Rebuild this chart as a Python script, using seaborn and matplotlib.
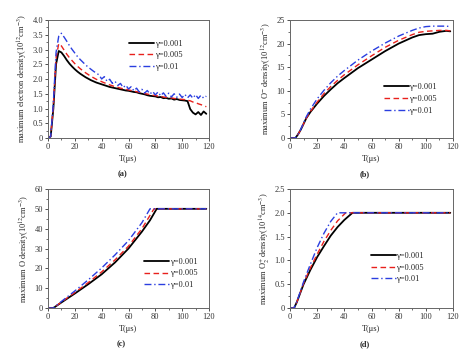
import pandas as pd
import matplotlib
matplotlib.use('Agg')
import matplotlib.pyplot as plt
from matplotlib.ticker import AutoMinorLocator
import seaborn as sns

# (a) maximum electron density, t every 2 us
t_a = list(range(0, 120, 2))
ne_001 = [0, 0.05, 1.0, 2.5, 2.95, 2.9, 2.78, 2.64, 2.52, 2.42, 2.33, 2.25, 2.18, 2.12, 2.06,
          2.01, 1.96, 1.92, 1.88, 1.85, 1.82, 1.79, 1.76, 1.73, 1.71, 1.69, 1.67, 1.65, 1.63, 1.61,
          1.6, 1.58, 1.56, 1.55, 1.52, 1.5, 1.48, 1.45, 1.43, 1.42, 1.41, 1.38, 1.39, 1.35, 1.36,
          1.33, 1.34, 1.3, 1.32, 1.29, 1.28, 1.27, 1.25, 0.98, 0.86, 0.8, 0.88, 0.78, 0.9, 0.82]
ne_005 = [0, 0.05, 1.1, 2.7, 3.2, 3.12, 2.98, 2.84, 2.72, 2.62, 2.52, 2.43, 2.35, 2.28, 2.21,
          2.15, 2.09, 2.04, 1.99, 1.95, 1.91, 1.87, 1.84, 1.8, 1.77, 1.74, 1.72, 1.69, 1.67, 1.65,
          1.63, 1.61, 1.59, 1.57, 1.55, 1.53, 1.51, 1.49, 1.47, 1.45, 1.44, 1.42, 1.41, 1.39, 1.38,
          1.37, 1.36, 1.34, 1.33, 1.32, 1.31, 1.3, 1.28, 1.26, 1.22, 1.2, 1.16, 1.13, 1.1, 1.06]
ne_01 = [0, 0.05, 1.2, 2.9, 3.45, 3.55, 3.42, 3.28, 3.13, 3.0, 2.88, 2.76, 2.66, 2.57, 2.48,
         2.4, 2.33, 2.26, 2.2, 2.14, 2.0, 2.08, 1.92, 1.99, 1.85, 1.92, 1.78, 1.85, 1.71, 1.79,
         1.66, 1.74, 1.6, 1.69, 1.56, 1.65, 1.52, 1.61, 1.49, 1.58, 1.46, 1.56, 1.43, 1.53, 1.41,
         1.52, 1.39, 1.5, 1.38, 1.49, 1.37, 1.48, 1.36, 1.46, 1.35, 1.47, 1.34, 1.45, 1.35, 1.42]

# (b) maximum O- density
t_b = [0, 4, 6, 8, 10, 12, 15, 20, 25, 30, 35, 40, 50, 60, 70, 80, 90, 95, 100, 105, 110, 115, 118]
om_001 = [0, 0, 0.8, 1.8, 3.0, 4.2, 5.5, 7.3, 8.9, 10.3, 11.6, 12.7, 14.8, 16.6, 18.4, 20.0,
          21.3, 21.8, 22.0, 22.1, 22.5, 22.7, 22.6]
om_005 = [0, 0, 0.8, 1.8, 3.0, 4.2, 5.6, 7.6, 9.4, 10.9, 12.2, 13.4, 15.5, 17.4, 19.2, 20.7,
          21.9, 22.4, 22.6, 22.7, 22.8, 22.8, 22.7]
om_01 = [0, 0, 0.8, 1.9, 3.2, 4.5, 6.1, 8.3, 10.1, 11.7, 13.1, 14.3, 16.5, 18.4, 20.1, 21.6,
         22.8, 23.3, 23.6, 23.7, 23.7, 23.7, 23.6]

# (c) maximum O density
t_c1 = [0, 4, 10, 20, 30, 40, 50, 60, 70, 76, 81, 90, 100, 110, 118]
o_001 = [0, 0, 2.8, 7.3, 12.0, 17.0, 23.0, 30.0, 38.5, 44.2, 50, 50, 50, 50, 50]
t_c2 = [0, 4, 10, 20, 30, 40, 50, 60, 70, 79, 90, 100, 110, 118]
o_005 = [0, 0, 3.0, 7.8, 12.8, 18.2, 24.3, 31.2, 40.0, 50, 50, 50, 50, 50]
t_c3 = [0, 4, 10, 20, 30, 40, 50, 60, 70, 76, 90, 100, 110, 118]
o_01 = [0, 0, 3.3, 8.6, 14.2, 20.2, 26.8, 34.0, 43.0, 50, 50, 50, 50, 50]

# (d) maximum O2+ density
t_d1 = [0, 3, 5, 8, 10, 15, 20, 25, 30, 35, 40, 46, 60, 80, 100, 118]
o2_001 = [0, 0, 0.12, 0.35, 0.5, 0.8, 1.07, 1.3, 1.52, 1.7, 1.85, 2.0, 2.0, 2.0, 2.0, 2.0]
t_d2 = [0, 3, 5, 8, 10, 15, 20, 25, 30, 35, 41, 60, 80, 100, 118]
o2_005 = [0, 0, 0.12, 0.36, 0.52, 0.84, 1.13, 1.4, 1.63, 1.83, 2.0, 2.0, 2.0, 2.0, 2.0]
t_d3 = [0, 3, 5, 8, 10, 15, 20, 25, 30, 35, 60, 80, 100, 118]
o2_01 = [0, 0, 0.13, 0.38, 0.55, 0.92, 1.27, 1.57, 1.82, 2.0, 2.0, 2.0, 2.0, 2.0]

labels = ['γ=0.001', 'γ=0.005', 'γ=0.01']
colors = ['black', '#e8201c', '#2a3ee0']
styles = ['-', (0, (4, 2.5)), (0, (5, 2, 1, 2))]

sns.set_style('ticks')
plt.rcParams['font.family'] = ['Liberation Serif', 'DejaVu Serif']
plt.rcParams['mathtext.fontset'] = 'stix'
fs = 6.0

fig = plt.figure(figsize=(4.74, 3.63), dpi=100)
W, H = 474, 363


def make_ax(l, t, r, b):
    return fig.add_axes([l / W, 1 - b / H, (r - l) / W, (b - t) / H])


def draw(ax, series, ylim, yticks, ylabel, leg_xy, tag, tag_xy, xlab_y):
    for (t, y), lab, c, ls in zip(series, labels, colors, styles):
        df = pd.DataFrame({'t': t, 'y': y})
        sns.lineplot(data=df, x='t', y='y', ax=ax, color=c, linestyle=ls,
                     linewidth=1.3 if c == 'black' else 1.0, label=lab)
    ax.set_xlim(0, 120)
    ax.set_ylim(*ylim)
    ax.set_xticks(range(0, 121, 20))
    ax.set_yticks(yticks)
    ax.set_yticklabels(['0' if v == 0 else (f'{v:.1f}' if ylim[1] < 6 else f'{v:g}') for v in yticks])
    ax.xaxis.set_minor_locator(AutoMinorLocator(2))
    ax.yaxis.set_minor_locator(AutoMinorLocator(2))
    ax.tick_params(labelsize=fs, length=2, width=0.6, pad=1.5, colors='#333333')
    ax.tick_params(which='minor', length=1.2, width=0.5, colors='#333333')
    for s in ax.spines.values():
        s.set_color('#666666')
        s.set_linewidth(0.7)
    ax.set_xlabel('')
    ax.set_ylabel(ylabel, fontsize=fs, labelpad=2)
    ax.legend(loc='center left', bbox_to_anchor=leg_xy, frameon=False, fontsize=fs,
              handlelength=3.0, handletextpad=0.2, labelspacing=0.45, borderpad=0)
    fig.text(tag_xy[0] / W, 1 - tag_xy[1] / H, tag, fontsize=fs, fontweight='bold',
             ha='center', va='center')
    pos = ax.get_position()
    fig.text((pos.x0 + pos.x1) / 2, 1 - xlab_y / H, 'T(μs)', fontsize=fs,
             ha='center', va='center')


ax_a = make_ax(48, 20, 209, 138)
draw(ax_a, [(t_a, ne_001), (t_a, ne_005), (t_a, ne_01)], (0, 4.0),
     [0, 0.5, 1.0, 1.5, 2.0, 2.5, 3.0, 3.5, 4.0],
     'maximum electron density(10$^{12}$cm$^{-3}$)', (0.48, 0.70), '(a)', (122, 174), 159)

ax_b = make_ax(290, 20, 453, 138)
draw(ax_b, [(t_b, om_001), (t_b, om_005), (t_b, om_01)], (0, 25),
     [0, 5, 10, 15, 20, 25],
     'maximum O$^{-}$ density(10$^{12}$cm$^{-3}$)', (0.55, 0.33), '(b)', (365, 174), 159)

ax_c = make_ax(48, 189, 209, 308)
draw(ax_c, [(t_c1, o_001), (t_c2, o_005), (t_c3, o_01)], (0, 60),
     [0, 10, 20, 30, 40, 50, 60],
     'maximum O density(10$^{12}$cm$^{-3}$)', (0.57, 0.29), '(c)', (121, 344), 329)

ax_d = make_ax(290, 189, 453, 308)
draw(ax_d, [(t_d1, o2_001), (t_d2, o2_005), (t_d3, o2_01)], (0, 2.5),
     [0, 0.5, 1.0, 1.5, 2.0, 2.5],
     'maximum O$_2^{+}$ density(10$^{14}$cm$^{-3}$)', (0.47, 0.34), '(d)', (365, 344), 329)

fig.savefig('out.png', dpi=100)
